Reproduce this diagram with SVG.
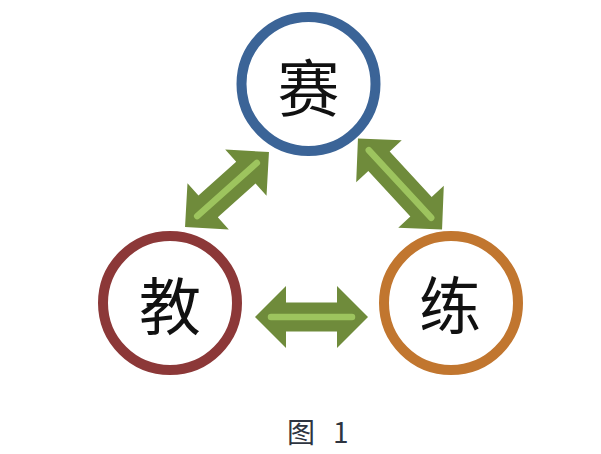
<svg xmlns="http://www.w3.org/2000/svg" width="601" height="454" viewBox="0 0 601 454">
  <style>
    .ring { fill: #ffffff; stroke-width: 10; }
    .lbl { font-family: "Noto Sans CJK SC", "Noto Sans", sans-serif; font-size: 62px; fill: #111111; text-anchor: middle; dominant-baseline: central; }
    .arrow { fill: #6f8b3b; }
    .stripe { stroke: #9dc45e; stroke-width: 6.5; stroke-linecap: round; fill: none; }
    .cap { font-family: "Noto Sans CJK SC", "Liberation Sans", sans-serif; font-size: 28px; fill: #2e3440; }
  </style>
  <rect width="601" height="454" fill="#ffffff"/>
  <g id="connectors">
    <g id="arrow-jiao-sai" transform="translate(227 189.5) rotate(-41.8)">
      <path class="arrow" d="M-56.3,0 L-25.3,-31 L-25.3,-14.5 L25.3,-14.5 L25.3,-31 L56.3,0 L25.3,31 L25.3,14.5 L-25.3,14.5 L-25.3,31 Z"/>
      <line class="stripe" x1="-40" y1="0" x2="40" y2="0"/>
    </g>
    <g id="arrow-sai-lian" transform="translate(400 184) rotate(47.3)">
      <path class="arrow" d="M-62,0 L-31,-31 L-31,-14.5 L31,-14.5 L31,-31 L62,0 L31,31 L31,14.5 L-31,14.5 L-31,31 Z"/>
      <line class="stripe" x1="-46" y1="0" x2="46" y2="0"/>
    </g>
    <g id="arrow-jiao-lian" transform="translate(311.5 317)">
      <path class="arrow" d="M-56.5,0 L-25.5,-31 L-25.5,-14.5 L25.5,-14.5 L25.5,-31 L56.5,0 L25.5,31 L25.5,14.5 L-25.5,14.5 L-25.5,31 Z"/>
      <line class="stripe" x1="-40.5" y1="0" x2="40.5" y2="0"/>
    </g>
  </g>
  <g id="node-sai">
    <circle class="ring" cx="308.5" cy="84" r="67" stroke="#3b6497"/>
    <text class="lbl" x="308.5" y="85">赛</text>
  </g>
  <g id="node-jiao">
    <circle class="ring" cx="170" cy="303" r="67" stroke="#8c3838"/>
    <text class="lbl" x="170" y="303">教</text>
  </g>
  <g id="node-lian">
    <circle class="ring" cx="451" cy="303" r="67" stroke="#c1762f"/>
    <text class="lbl" x="450" y="302">练</text>
  </g>
  <g id="caption">
    <text class="cap" x="287" y="443">图<tspan x="333">1</tspan></text>
  </g>
</svg>
